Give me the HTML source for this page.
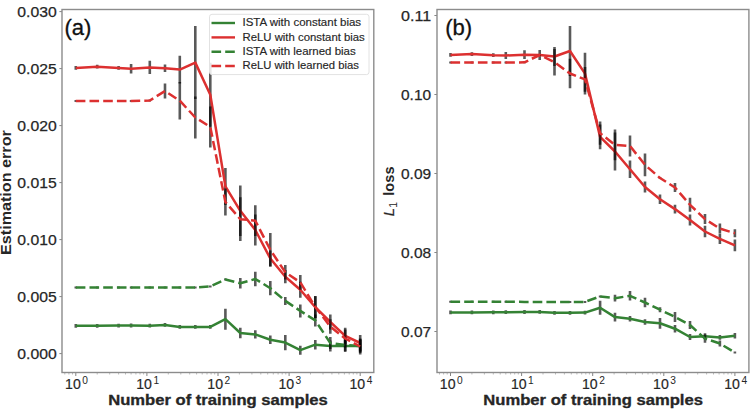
<!DOCTYPE html>
<html><head><meta charset="utf-8"><style>
html,body{margin:0;padding:0;background:#fff;}
body{width:752px;height:411px;overflow:hidden;}
svg{display:block;font-family:"Liberation Sans", sans-serif;}
</style></head><body><div>
<svg width="752" height="411" viewBox="0 0 752 411">
<rect width="752" height="411" fill="#fff"/>
<path d="M75.8 323.9V327.7M97.2 323.9V327.7M118.6 323.7V327.5M131.1 323.6V327.4M149.8 323.8V327.6M165.0 323.0V326.8M179.8 325.0V328.8M195.3 325.0V328.8M210.3 325.0V328.8M225.4 308.7V329.7M240.3 327.7V338.3M255.3 330.2V338.6M270.3 335.6V344.0M285.3 335.0V350.2M300.3 345.7V354.7M315.3 340.0V349.4M330.3 340.5V351.5M345.2 339.9V351.9M360.2 339.0V353.0" stroke="#000" stroke-opacity="0.65" stroke-width="2.6" fill="none"/>
<polyline points="75.8,325.8 97.2,325.8 118.6,325.6 131.1,325.5 149.8,325.7 165.0,324.9 179.8,326.9 195.3,326.9 210.3,326.9 225.4,319.2 240.3,333.0 255.3,334.4 270.3,339.8 285.3,342.6 300.3,350.2 315.3,344.7 330.3,346.0 345.2,345.9 360.2,346.0" stroke="#348234" stroke-width="2.5" fill="none" stroke-linejoin="round"/>
<path d="M75.8 66.0V69.8M97.2 64.8V68.6M118.6 66.0V69.8M131.1 64.0V73.4M149.8 60.7V74.1M165.0 64.5V71.9M179.8 55.8V83.4M195.3 26.1V99.1M210.3 62.8V126.8M225.4 167.9V204.9M240.3 185.5V236.1M255.3 214.5V245.5M270.3 250.5V266.5M285.3 270.1V283.3M300.3 281.7V297.7M315.3 296.2V318.2M330.3 314.6V329.4M345.2 327.7V343.9M360.2 335.0V351.0" stroke="#000" stroke-opacity="0.65" stroke-width="2.6" fill="none"/>
<polyline points="75.8,67.9 97.2,66.7 118.6,67.9 131.1,68.7 149.8,67.4 165.0,68.2 179.8,69.6 195.3,62.6 210.3,94.8 225.4,186.4 240.3,210.8 255.3,230.0 270.3,258.5 285.3,276.7 300.3,289.7 315.3,307.2 330.3,322.0 345.2,335.8 360.2,343.0" stroke="#dc3030" stroke-width="2.5" fill="none" stroke-linejoin="round"/>
<path d="M75.8 286.5V288.5M97.2 286.5V288.5M118.6 286.5V288.5M131.1 286.5V288.5M149.8 286.5V288.5M165.0 286.5V288.5M179.8 286.5V288.5M195.3 286.5V288.5M210.3 285.4V287.4M225.4 278.5V280.5M240.3 278.1V288.5M255.3 271.8V286.2M270.3 281.1V295.3M285.3 296.9V304.9M300.3 304.4V317.4M315.3 314.4V326.4M330.3 337.0V349.0M345.2 339.0V351.0M360.2 340.0V352.0" stroke="#000" stroke-opacity="0.65" stroke-width="2.6" fill="none"/>
<polyline points="75.8,287.5 97.2,287.5 118.6,287.5 131.1,287.5 149.8,287.5 165.0,287.5 179.8,287.5 195.3,287.5 210.3,286.4 225.4,279.5 240.3,283.3 255.3,279.0 270.3,288.2 285.3,300.9 300.3,310.9 315.3,320.4 330.3,343.0 345.2,345.0 360.2,346.0" stroke="#348234" stroke-width="2.5" fill="none" stroke-linejoin="round" stroke-dasharray="9.6,4.1"/>
<path d="M75.8 100.0V102.0M97.2 100.0V102.0M118.6 100.0V102.0M131.1 100.0V102.0M149.8 99.5V101.5M165.0 83.5V98.5M179.8 81.9V119.5M195.3 96.5V138.5M210.3 106.5V147.5M225.4 188.5V215.5M240.3 197.3V241.1M255.3 205.3V236.1M270.3 233.0V266.6M285.3 265.0V279.6M300.3 275.1V289.7M315.3 296.0V318.0M330.3 319.2V333.8M345.2 329.5V347.5M360.2 338.5V354.5" stroke="#000" stroke-opacity="0.65" stroke-width="2.6" fill="none"/>
<polyline points="75.8,101.0 97.2,101.0 118.6,101.0 131.1,101.0 149.8,100.5 165.0,91.0 179.8,100.7 195.3,117.5 210.3,127.0 225.4,202.0 240.3,219.2 255.3,220.7 270.3,249.8 285.3,272.3 300.3,282.4 315.3,307.0 330.3,326.5 345.2,338.5 360.2,346.5" stroke="#dc3030" stroke-width="2.5" fill="none" stroke-linejoin="round" stroke-dasharray="9.6,4.1"/>
<path d="M450.5 310.5V314.3M471.9 310.5V314.3M493.3 310.4V314.2M505.8 310.3V314.1M524.5 310.1V313.9M539.7 310.0V313.8M554.5 310.9V314.7M570.0 310.9V314.7M585.0 310.7V314.5M600.1 300.7V314.7M615.0 312.8V321.4M630.0 315.9V321.5M645.0 319.3V324.7M660.0 317.9V328.7M675.0 325.0V332.4M690.0 334.0V340.0M705.0 333.2V339.2M719.9 335.0V339.8M734.9 333.1V338.5" stroke="#000" stroke-opacity="0.65" stroke-width="2.6" fill="none"/>
<polyline points="450.5,312.4 471.9,312.4 493.3,312.3 505.8,312.2 524.5,312.0 539.7,311.9 554.5,312.8 570.0,312.8 585.0,312.6 600.1,307.7 615.0,317.1 630.0,318.7 645.0,322.0 660.0,323.3 675.0,328.7 690.0,337.0 705.0,336.2 719.9,337.4 734.9,335.8" stroke="#348234" stroke-width="2.5" fill="none" stroke-linejoin="round"/>
<path d="M450.5 53.0V56.8M471.9 52.2V56.0M493.3 53.3V57.1M505.8 52.0V59.0M524.5 50.3V59.1M539.7 49.9V60.1M554.5 47.0V66.0M570.0 26.0V76.0M585.0 52.8V94.4M600.1 124.5V149.3M615.0 132.5V170.5M630.0 160.5V178.1M645.0 181.5V192.5M660.0 194.4V204.0M675.0 204.7V213.5M690.0 214.5V225.5M705.0 225.7V237.3M719.9 233.7V243.9M734.9 239.6V251.2" stroke="#000" stroke-opacity="0.65" stroke-width="2.6" fill="none"/>
<polyline points="450.5,54.9 471.9,54.1 493.3,55.2 505.8,55.5 524.5,54.7 539.7,55.0 554.5,56.5 570.0,51.0 585.0,73.6 600.1,136.9 615.0,151.5 630.0,169.3 645.0,187.0 660.0,199.2 675.0,209.1 690.0,220.0 705.0,231.5 719.9,238.8 734.9,245.4" stroke="#dc3030" stroke-width="2.5" fill="none" stroke-linejoin="round"/>
<path d="M450.5 300.7V302.7M471.9 300.7V302.7M493.3 300.8V302.8M505.8 300.8V302.8M524.5 300.9V302.9M539.7 300.9V302.9M554.5 300.9V302.9M570.0 300.9V302.9M585.0 300.9V302.9M600.1 295.4V297.4M615.0 294.8V301.6M630.0 291.1V300.5M645.0 297.7V307.3M660.0 307.2V312.2M675.0 312.1V321.9M690.0 321.0V329.0M705.0 334.4V342.8M719.9 340.5V346.5M734.9 351.6V353.6" stroke="#000" stroke-opacity="0.65" stroke-width="2.6" fill="none"/>
<polyline points="450.5,301.7 471.9,301.7 493.3,301.8 505.8,301.8 524.5,301.9 539.7,301.9 554.5,301.9 570.0,301.9 585.0,301.9 600.1,296.4 615.0,298.2 630.0,295.8 645.0,302.5 660.0,309.7 675.0,317.0 690.0,325.0 705.0,338.6 719.9,343.5 734.9,352.6" stroke="#348234" stroke-width="2.5" fill="none" stroke-linejoin="round" stroke-dasharray="9.6,4.1"/>
<path d="M450.5 61.6V63.6M471.9 61.6V63.6M493.3 61.6V63.6M505.8 61.6V63.6M524.5 61.3V63.3M539.7 54.0V56.0M554.5 49.1V75.5M570.0 58.8V88.2M585.0 67.0V91.8M600.1 121.6V144.8M615.0 129.6V160.2M630.0 135.4V156.6M645.0 153.6V176.2M660.0 177.0V179.0M675.0 183.1V191.9M690.0 197.8V211.8M705.0 214.1V224.1M719.9 223.6V233.6M734.9 229.2V237.2" stroke="#000" stroke-opacity="0.65" stroke-width="2.6" fill="none"/>
<polyline points="450.5,62.6 471.9,62.6 493.3,62.6 505.8,62.6 524.5,62.3 539.7,55.0 554.5,62.3 570.0,73.5 585.0,79.4 600.1,133.2 615.0,144.9 630.0,146.0 645.0,164.9 660.0,178.0 675.0,187.5 690.0,204.8 705.0,219.1 719.9,228.6 734.9,233.2" stroke="#dc3030" stroke-width="2.5" fill="none" stroke-linejoin="round" stroke-dasharray="9.6,4.1"/>
<path d="M75.8 372.5v3.5M146.9 372.5v3.5M218.0 372.5v3.5M289.1 372.5v3.5M360.2 372.5v3.5M62.0 353.6h-2.6M62.0 296.6h-2.6M62.0 239.6h-2.6M62.0 182.6h-2.6M62.0 125.6h-2.6M62.0 68.6h-2.6M62.0 11.6h-2.6" stroke="#777" stroke-width="0.9" fill="none"/>
<path d="M64.8 372.5v2M68.9 372.5v2M72.5 372.5v2M97.2 372.5v2M109.7 372.5v2M118.6 372.5v2M125.5 372.5v2M131.1 372.5v2M135.9 372.5v2M140.0 372.5v2M143.6 372.5v2M168.3 372.5v2M180.8 372.5v2M189.7 372.5v2M196.6 372.5v2M202.2 372.5v2M207.0 372.5v2M211.1 372.5v2M214.7 372.5v2M239.4 372.5v2M251.9 372.5v2M260.8 372.5v2M267.7 372.5v2M273.3 372.5v2M278.1 372.5v2M282.2 372.5v2M285.8 372.5v2M310.5 372.5v2M323.0 372.5v2M331.9 372.5v2M338.8 372.5v2M344.4 372.5v2M349.2 372.5v2M353.3 372.5v2M356.9 372.5v2" stroke="#aaa" stroke-width="0.8" fill="none"/>
<path d="M450.5 372.5v3.5M521.6 372.5v3.5M592.7 372.5v3.5M663.8 372.5v3.5M734.9 372.5v3.5M437.0 331.5h-2.6M437.0 252.5h-2.6M437.0 173.5h-2.6M437.0 94.5h-2.6M437.0 15.5h-2.6" stroke="#777" stroke-width="0.9" fill="none"/>
<path d="M439.5 372.5v2M443.6 372.5v2M447.2 372.5v2M471.9 372.5v2M484.4 372.5v2M493.3 372.5v2M500.2 372.5v2M505.8 372.5v2M510.6 372.5v2M514.7 372.5v2M518.3 372.5v2M543.0 372.5v2M555.5 372.5v2M564.4 372.5v2M571.3 372.5v2M576.9 372.5v2M581.7 372.5v2M585.8 372.5v2M589.4 372.5v2M614.1 372.5v2M626.6 372.5v2M635.5 372.5v2M642.4 372.5v2M648.0 372.5v2M652.8 372.5v2M656.9 372.5v2M660.5 372.5v2M685.2 372.5v2M697.7 372.5v2M706.6 372.5v2M713.5 372.5v2M719.1 372.5v2M723.9 372.5v2M728.0 372.5v2M731.6 372.5v2" stroke="#aaa" stroke-width="0.8" fill="none"/>
<rect x="62.0" y="9.5" width="311.8" height="363.0" fill="none" stroke="#8c8c8c" stroke-width="1.4"/>
<rect x="437.0" y="9.5" width="311.9" height="363.0" fill="none" stroke="#8c8c8c" stroke-width="1.4"/>
<text x="56.7" y="359.1" font-size="15.5" text-anchor="end" font-weight="normal" fill="#262626" textLength="39.4" lengthAdjust="spacingAndGlyphs" stroke="#262626" stroke-width="0.25">0.000</text>
<text x="56.7" y="302.1" font-size="15.5" text-anchor="end" font-weight="normal" fill="#262626" textLength="39.4" lengthAdjust="spacingAndGlyphs" stroke="#262626" stroke-width="0.25">0.005</text>
<text x="56.7" y="245.10000000000002" font-size="15.5" text-anchor="end" font-weight="normal" fill="#262626" textLength="39.4" lengthAdjust="spacingAndGlyphs" stroke="#262626" stroke-width="0.25">0.010</text>
<text x="56.7" y="188.10000000000002" font-size="15.5" text-anchor="end" font-weight="normal" fill="#262626" textLength="39.4" lengthAdjust="spacingAndGlyphs" stroke="#262626" stroke-width="0.25">0.015</text>
<text x="56.7" y="131.10000000000002" font-size="15.5" text-anchor="end" font-weight="normal" fill="#262626" textLength="39.4" lengthAdjust="spacingAndGlyphs" stroke="#262626" stroke-width="0.25">0.020</text>
<text x="56.7" y="74.10000000000002" font-size="15.5" text-anchor="end" font-weight="normal" fill="#262626" textLength="39.4" lengthAdjust="spacingAndGlyphs" stroke="#262626" stroke-width="0.25">0.025</text>
<text x="56.7" y="17.100000000000023" font-size="15.5" text-anchor="end" font-weight="normal" fill="#262626" textLength="39.4" lengthAdjust="spacingAndGlyphs" stroke="#262626" stroke-width="0.25">0.030</text>
<text x="431.1" y="337.0" font-size="15.5" text-anchor="end" font-weight="normal" fill="#262626" textLength="30.1" lengthAdjust="spacingAndGlyphs" stroke="#262626" stroke-width="0.25">0.07</text>
<text x="431.1" y="258.0" font-size="15.5" text-anchor="end" font-weight="normal" fill="#262626" textLength="30.1" lengthAdjust="spacingAndGlyphs" stroke="#262626" stroke-width="0.25">0.08</text>
<text x="431.1" y="179.0" font-size="15.5" text-anchor="end" font-weight="normal" fill="#262626" textLength="30.1" lengthAdjust="spacingAndGlyphs" stroke="#262626" stroke-width="0.25">0.09</text>
<text x="431.1" y="100.0" font-size="15.5" text-anchor="end" font-weight="normal" fill="#262626" textLength="30.1" lengthAdjust="spacingAndGlyphs" stroke="#262626" stroke-width="0.25">0.10</text>
<text x="431.1" y="21.0" font-size="15.5" text-anchor="end" font-weight="normal" fill="#262626" textLength="30.1" lengthAdjust="spacingAndGlyphs" stroke="#262626" stroke-width="0.25">0.11</text>
<text x="65.1" y="388.8" font-size="15" fill="#262626" stroke="#262626" stroke-width="0.2" textLength="15.7" lengthAdjust="spacingAndGlyphs">10</text>
<text x="82.3" y="383.5" font-size="10.2" fill="#262626">0</text>
<text x="136.2" y="388.8" font-size="15" fill="#262626" stroke="#262626" stroke-width="0.2" textLength="15.7" lengthAdjust="spacingAndGlyphs">10</text>
<text x="153.4" y="383.5" font-size="10.2" fill="#262626">1</text>
<text x="207.3" y="388.8" font-size="15" fill="#262626" stroke="#262626" stroke-width="0.2" textLength="15.7" lengthAdjust="spacingAndGlyphs">10</text>
<text x="224.5" y="383.5" font-size="10.2" fill="#262626">2</text>
<text x="278.4" y="388.8" font-size="15" fill="#262626" stroke="#262626" stroke-width="0.2" textLength="15.7" lengthAdjust="spacingAndGlyphs">10</text>
<text x="295.6" y="383.5" font-size="10.2" fill="#262626">3</text>
<text x="349.5" y="388.8" font-size="15" fill="#262626" stroke="#262626" stroke-width="0.2" textLength="15.7" lengthAdjust="spacingAndGlyphs">10</text>
<text x="366.7" y="383.5" font-size="10.2" fill="#262626">4</text>
<text x="439.8" y="388.8" font-size="15" fill="#262626" stroke="#262626" stroke-width="0.2" textLength="15.7" lengthAdjust="spacingAndGlyphs">10</text>
<text x="457.0" y="383.5" font-size="10.2" fill="#262626">0</text>
<text x="510.9" y="388.8" font-size="15" fill="#262626" stroke="#262626" stroke-width="0.2" textLength="15.7" lengthAdjust="spacingAndGlyphs">10</text>
<text x="528.1" y="383.5" font-size="10.2" fill="#262626">1</text>
<text x="582.0" y="388.8" font-size="15" fill="#262626" stroke="#262626" stroke-width="0.2" textLength="15.7" lengthAdjust="spacingAndGlyphs">10</text>
<text x="599.2" y="383.5" font-size="10.2" fill="#262626">2</text>
<text x="653.1" y="388.8" font-size="15" fill="#262626" stroke="#262626" stroke-width="0.2" textLength="15.7" lengthAdjust="spacingAndGlyphs">10</text>
<text x="670.3" y="383.5" font-size="10.2" fill="#262626">3</text>
<text x="724.2" y="388.8" font-size="15" fill="#262626" stroke="#262626" stroke-width="0.2" textLength="15.7" lengthAdjust="spacingAndGlyphs">10</text>
<text x="741.4" y="383.5" font-size="10.2" fill="#262626">4</text>
<text x="108.2" y="405" font-size="14" text-anchor="start" font-weight="bold" fill="#262626" textLength="219.6" lengthAdjust="spacingAndGlyphs" stroke="#262626" stroke-width="0.3">Number of training samples</text>
<text x="483.3" y="405" font-size="14" text-anchor="start" font-weight="bold" fill="#262626" textLength="219.6" lengthAdjust="spacingAndGlyphs" stroke="#262626" stroke-width="0.3">Number of training samples</text>
<text transform="translate(11.2,255.0) rotate(-90)" font-size="14.5" font-weight="bold" fill="#262626" textLength="124.8" lengthAdjust="spacingAndGlyphs">Estimation error</text>
<g transform="translate(394,216.3) rotate(-90)"><text x="0" y="0" font-size="14.7" font-style="italic" fill="#262626" stroke="#262626" stroke-width="0.2">L</text><text x="8.6" y="2.7" font-size="10.5" fill="#262626">1</text><text x="20.6" y="0" font-size="14.5" font-weight="bold" fill="#262626" textLength="29.2" lengthAdjust="spacingAndGlyphs">loss</text></g>
<text x="64.4" y="35.1" font-size="22" fill="#111" stroke="#111" stroke-width="0.3" textLength="27" lengthAdjust="spacingAndGlyphs">(a)</text>
<text x="445.2" y="35.1" font-size="22" fill="#111" stroke="#111" stroke-width="0.3" textLength="27" lengthAdjust="spacingAndGlyphs">(b)</text>
<rect x="209.5" y="14.3" width="159.5" height="60.3" rx="2.5" fill="#fff" fill-opacity="0.85" stroke="#e2e2e2" stroke-width="1"/>
<line x1="211.5" y1="23.0" x2="235" y2="23.0" stroke="#348234" stroke-width="2.4"/>
<text x="242.5" y="26.4" font-size="10.5" text-anchor="start" font-weight="normal" fill="#262626" textLength="118.6" lengthAdjust="spacingAndGlyphs" stroke="#262626" stroke-width="0.15">ISTA with constant bias</text>
<line x1="211.5" y1="37.4" x2="235" y2="37.4" stroke="#dc3030" stroke-width="2.4"/>
<text x="242.5" y="40.8" font-size="10.5" text-anchor="start" font-weight="normal" fill="#262626" textLength="122.3" lengthAdjust="spacingAndGlyphs" stroke="#262626" stroke-width="0.15">ReLU with constant bias</text>
<line x1="211.5" y1="51.7" x2="235" y2="51.7" stroke="#348234" stroke-width="2.4" stroke-dasharray="9.6,4.1"/>
<text x="242.5" y="55.1" font-size="10.5" text-anchor="start" font-weight="normal" fill="#262626" textLength="113.2" lengthAdjust="spacingAndGlyphs" stroke="#262626" stroke-width="0.15">ISTA with learned bias</text>
<line x1="211.5" y1="66.0" x2="235" y2="66.0" stroke="#dc3030" stroke-width="2.4" stroke-dasharray="9.6,4.1"/>
<text x="242.5" y="69.4" font-size="10.5" text-anchor="start" font-weight="normal" fill="#262626" textLength="116.4" lengthAdjust="spacingAndGlyphs" stroke="#262626" stroke-width="0.15">ReLU with learned bias</text>
</svg>
</div></body></html>
